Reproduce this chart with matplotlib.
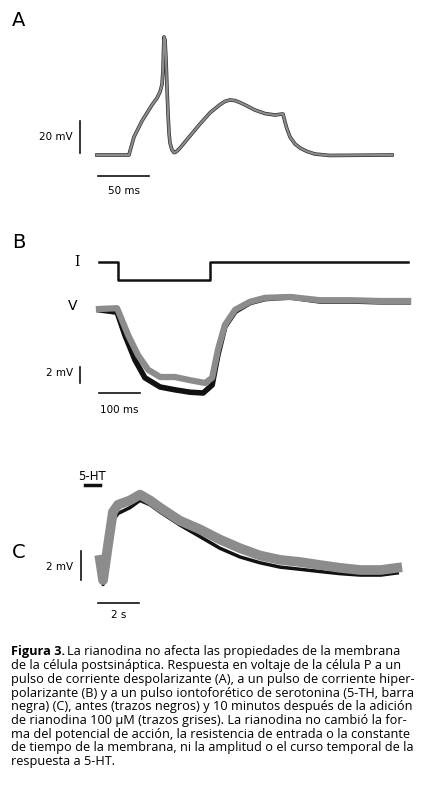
import matplotlib
matplotlib.use("Agg")
import matplotlib.pyplot as plt

W, H = 422, 785
# ---- Panel A data (ms, mV) ----
a_t = [0, 32, 33, 35, 37, 41, 45, 50, 55, 60, 63, 65, 66, 66.5, 67, 68, 69, 70, 71, 72, 73, 75, 77, 79, 83, 93, 103, 113, 123, 128, 133, 138, 143, 148, 158, 168, 178, 185, 186, 188, 190, 193, 198, 203, 210, 218, 233, 295]
a_v = [0, 0, 2.5, 6.9, 11.3, 16.3, 21.3, 26.3, 31.3, 35.6, 39.4, 44, 53.1, 65, 73.8, 72, 60, 42, 26, 14, 7.5, 3.1, 1.5, 1.9, 4.4, 11.9, 19.4, 26.4, 31.5, 33.5, 34.4, 34.0, 32.8, 31.3, 28.1, 25.9, 25.0, 25.6, 25.6, 20.6, 16.3, 11.3, 6.9, 4.4, 2.2, 0.6, -0.3, 0]
# ---- Panel B data ----
b_t_gray = [0, 44, 51, 71, 95, 120, 149, 185, 222, 259, 276, 290, 307, 332, 368, 405, 466, 539, 612, 685, 754]
b_v_gray = [0, 0.1, -0.75, -3.25, -5.75, -7.6, -8.5, -8.5, -8.9, -9.25, -8.6, -5.1, -2.0, -0.1, 0.9, 1.4, 1.5, 1.1, 1.1, 1.0, 1.0]
b_t_black = [0, 44, 63, 88, 112, 149, 185, 222, 254, 276, 290, 307, 332, 368, 405, 466, 539, 612, 685, 754]
b_v_black = [-0.1, -0.4, -3.25, -6.4, -8.6, -9.75, -10.1, -10.4, -10.5, -9.5, -5.75, -2.2, -0.3, 0.8, 1.3, 1.5, 1.0, 1.0, 0.9, 0.9]
b_i_t = [0, 46, 46, 271, 271, 754]
b_i = [0, 0, -1, -1, 0, 0]
# ---- Panel C data (s, mV) ----
c_t_gray = [0, 0.15, 0.39, 0.63, 0.88, 1.46, 1.95, 2.44, 2.93, 3.9, 4.88, 5.85, 6.83, 7.8, 8.78, 9.76, 10.7, 11.7, 12.7, 13.7, 14.5]
c_v_gray = [0.7, -0.7, 1.7, 4.0, 4.5, 4.8, 5.2, 4.8, 4.3, 3.4, 2.8, 2.1, 1.5, 1.0, 0.7, 0.55, 0.35, 0.15, 0.0, 0.0, 0.15]
c_t_black = [0, 0.15, 0.39, 0.63, 0.88, 1.46, 1.95, 2.44, 2.93, 3.9, 4.88, 5.85, 6.83, 7.8, 8.78, 9.76, 10.7, 11.7, 12.7, 13.7, 14.5]
c_v_black = [0.4, -1.0, 1.2, 3.4, 3.9, 4.3, 4.8, 4.5, 4.0, 3.1, 2.3, 1.5, 0.9, 0.5, 0.2, 0.05, -0.1, -0.25, -0.35, -0.35, -0.2]

caption = [
    "La rianodina no afecta las propiedades de la membrana",
    "de la célula postsináptica. Respuesta en voltaje de la célula P a un",
    "pulso de corriente despolarizante (A), a un pulso de corriente hiper-",
    "polarizante (B) y a un pulso iontoforético de serotonina (5-TH, barra",
    "negra) (C), antes (trazos negros) y 10 minutos después de la adición",
    "de rianodina 100 μM (trazos grises). La rianodina no cambió la for-",
    "ma del potencial de acción, la resistencia de entrada o la constante",
    "de tiempo de la membrana, ni la amplitud o el curso temporal de la",
    "respuesta a 5-HT.",
]

fig = plt.figure(figsize=(W / 100, H / 100), dpi=100)
ov = fig.add_axes([0, 0, 1, 1])
ov.set_xlim(0, W); ov.set_ylim(H, 0); ov.axis("off")

def panel(x0, y0, w, h, ox, oy, sx, sy):
    ax = fig.add_axes([x0 / W, 1 - (y0 + h) / H, w / W, h / H])
    ax.set_xlim((x0 - ox) / sx, (x0 + w - ox) / sx)
    ax.set_ylim((oy - (y0 + h)) / sy, (oy - y0) / sy)
    ax.axis("off")
    ax.patch.set_alpha(0)
    return ax

GRAY = "#8c8c8c"
axA = panel(60, 0, 362, 200, 97, 155, 1.0, 1.6)
axA.plot(a_t, a_v, color="#303030", lw=2.6, solid_joinstyle="round")
axA.plot(a_t, a_v, color=GRAY, lw=1.6, solid_joinstyle="round")
axB = panel(60, 240, 362, 180, 99, 309, 0.41, 8.0)
axB.plot(b_t_black, b_v_black, color="#111111", lw=4)
axB.plot(b_t_gray, b_v_gray, color=GRAY, lw=4.5)
axB.plot(b_i_t, [5.9 + 2.25 * i for i in b_i], color="#111111", lw=1.8)
axC = panel(60, 420, 362, 200, 100, 570, 20.5, 14.5)
axC.plot(c_t_black, c_v_black, color="#111111", lw=2.5)
axC.plot(c_t_gray, c_v_gray, color=GRAY, lw=7)

k = "#111111"
ov.plot([80, 80], [121, 153], color=k, lw=1.2)
ov.plot([98, 149], [176, 176], color=k, lw=1.2)
ov.text(73, 137, "20 mV", ha="right", va="center", fontsize=7.5)
ov.text(124, 191, "50 ms", ha="center", va="center", fontsize=7.5)
ov.plot([80, 80], [367, 383], color=k, lw=1.2)
ov.plot([99, 140], [393, 393], color=k, lw=1.2)
ov.text(73, 373, "2 mV", ha="right", va="center", fontsize=7.5)
ov.text(119, 410, "100 ms", ha="center", va="center", fontsize=7.5)
ov.text(77, 262, "I", ha="center", va="center", fontsize=10, family="DejaVu Serif")
ov.text(73, 306, "V", ha="center", va="center", fontsize=10)
ov.plot([81, 81], [551, 580], color=k, lw=1.2)
ov.plot([98, 139], [603, 603], color=k, lw=1.2)
ov.text(73, 567, "2 mV", ha="right", va="center", fontsize=7.5)
ov.text(119, 615, "2 s", ha="center", va="center", fontsize=7.5)
ov.plot([85, 100], [485, 485], color=k, lw=2.5)
ov.text(78, 477, "5-HT", ha="left", va="center", fontsize=8.5)
for lab, y in [("A", 20), ("B", 243), ("C", 552)]:
    ov.text(12, y, lab, ha="left", va="center", fontsize=14)

fam = ["Open Sans", "DejaVu Sans"]
fs = 9.2
y0 = 652
ov.text(11, y0, "Figura 3.", ha="left", va="center", fontsize=fs, fontweight="bold", family=fam)
ov.text(67, y0, caption[0], ha="left", va="center", fontsize=fs, family=fam)
for i, line in enumerate(caption[1:], start=1):
    ov.text(11, y0 + i * 13.7, line, ha="left", va="center", fontsize=fs, family=fam)

fig.savefig("out.png", dpi=100)
